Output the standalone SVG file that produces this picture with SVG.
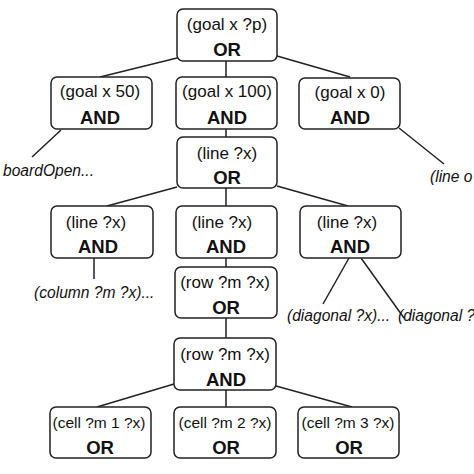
<svg xmlns="http://www.w3.org/2000/svg" width="474" height="474" viewBox="0 0 474 474">
<style>
.box{fill:#fff;stroke:#222;stroke-width:1.5}
.lbl{font-family:"Liberation Sans",Arial,sans-serif;font-size:17px;fill:#111;text-anchor:middle}
.cl{font-size:15.5px}
.op{font-family:"Liberation Sans",Arial,sans-serif;font-size:18.5px;font-weight:bold;fill:#111;text-anchor:middle}
.it{font-family:"Liberation Sans",Arial,sans-serif;font-size:15.6px;font-style:italic;fill:#111}
.ln{stroke:#222;stroke-width:1.5;fill:none}
</style>
<rect width="474" height="474" fill="#fff"/>
<g id="connectors">
<path class="ln" d="M177,58 L100,77 M226,61 L226,77 M277,56 L350,77"/>
<path class="ln" d="M61,130 L32,157 M399,128 L444,164 M226,129 L226,137"/>
<path class="ln" d="M177,187 L107,206 M226,188 L226,206 M277,186 L348,206"/>
<path class="ln" d="M94,258 L94,279 M349,258 L323,304 M361,258 L404,318"/>
<path class="ln" d="M226,258 L226,267 M226,318 L226,338"/>
<path class="ln" d="M174,384 L97,407 M226,390 L226,407 M276,386 L352,407"/>
</g>
<g id="root"><rect class="box" x="177" y="9" width="100" height="52" rx="6"/><text class="lbl" x="227" y="30">(goal x ?p)</text><text class="op" x="227" y="56">OR</text></g>
<g id="goal50"><rect class="box" x="51" y="77" width="101" height="52" rx="6"/><text class="lbl" x="100" y="97">(goal x 50)</text><text class="op" x="100" y="124">AND</text></g>
<g id="goal100"><rect class="box" x="176" y="77" width="101" height="52" rx="6"/><text class="lbl" x="227" y="97">(goal x 100)</text><text class="op" x="227" y="124">AND</text></g>
<g id="goal0"><rect class="box" x="299" y="78" width="101" height="51" rx="6"/><text class="lbl" x="350" y="98">(goal x 0)</text><text class="op" x="350" y="124">AND</text></g>
<g id="lineOr"><rect class="box" x="177" y="137" width="100" height="51" rx="6"/><text class="lbl" x="227" y="159">(line ?x)</text><text class="op" x="227" y="184">OR</text></g>
<g id="lineAnd1"><rect class="box" x="51" y="206" width="102" height="52" rx="6"/><text class="lbl" x="96" y="228">(line ?x)</text><text class="op" x="98" y="253">AND</text></g>
<g id="lineAnd2"><rect class="box" x="176" y="206" width="101" height="52" rx="6"/><text class="lbl" x="222" y="228">(line ?x)</text><text class="op" x="226" y="253">AND</text></g>
<g id="lineAnd3"><rect class="box" x="300" y="206" width="101" height="52" rx="6"/><text class="lbl" x="347" y="228">(line ?x)</text><text class="op" x="350" y="253">AND</text></g>
<g id="rowOr"><rect class="box" x="175" y="267" width="102" height="51" rx="6"/><text class="lbl" x="225" y="288">(row ?m ?x)</text><text class="op" x="226" y="314">OR</text></g>
<g id="rowAnd"><rect class="box" x="174" y="338" width="102" height="52" rx="6"/><text class="lbl" x="225" y="360">(row ?m ?x)</text><text class="op" x="226" y="386">AND</text></g>
<g id="cell1"><rect class="box" x="50" y="407" width="101" height="51" rx="6"/><text class="lbl cl" x="99" y="428">(cell ?m 1 ?x)</text><text class="op" x="100" y="454">OR</text></g>
<g id="cell2"><rect class="box" x="174" y="407" width="102" height="51" rx="6"/><text class="lbl cl" x="225" y="428">(cell ?m 2 ?x)</text><text class="op" x="226" y="454">OR</text></g>
<g id="cell3"><rect class="box" x="298" y="407" width="101" height="51" rx="6"/><text class="lbl cl" x="348" y="428">(cell ?m 3 ?x)</text><text class="op" x="349" y="454">OR</text></g>
<g id="leaves">
<text class="it" x="3" y="176">boardOpen...</text>
<text class="it" x="430" y="182">(line o</text>
<text class="it" x="34" y="298">(column ?m ?x)...</text>
<text class="it" x="287" y="321">(diagonal ?x)...</text>
<text class="it" x="398" y="321">(diagonal ?</text>
</g>
</svg>
